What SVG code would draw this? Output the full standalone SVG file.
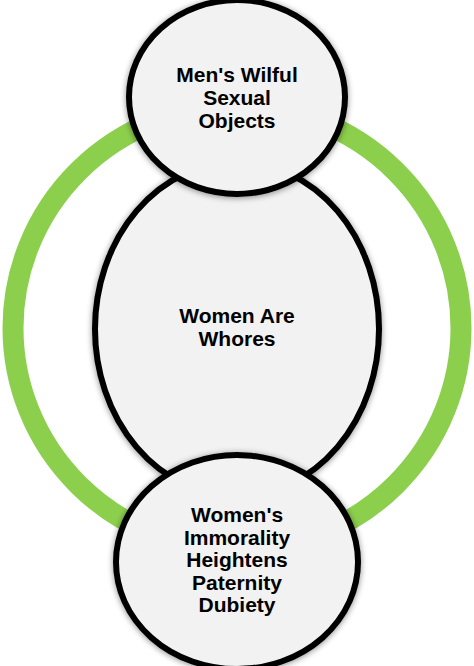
<svg xmlns="http://www.w3.org/2000/svg" width="474" height="666" viewBox="0 0 474 666">
  <style>
    .node { fill: #F2F2F2; stroke: #000000; stroke-width: 6; filter: url(#shadow); }
    .lbl { font-family: "Liberation Sans", Arial, sans-serif; font-weight: bold; font-size: 21px; fill: #000000; text-anchor: middle; }
  </style>
  <defs>
    <filter id="shadow" x="-20%" y="-20%" width="140%" height="140%">
      <feGaussianBlur in="SourceAlpha" stdDeviation="3"/>
      <feOffset dx="0" dy="1" result="b"/>
      <feComponentTransfer><feFuncA type="linear" slope="0.45"/></feComponentTransfer>
      <feMerge><feMergeNode/><feMergeNode in="SourceGraphic"/></feMerge>
    </filter>
  </defs>
  <rect width="474" height="666" fill="#FFFFFF"/>
  <g id="connectors">
    <ellipse cx="237" cy="328" rx="224" ry="222" fill="none" stroke="#8CCF4D" stroke-width="21"/>
  </g>
  <g id="node-women-are-whores">
    <ellipse class="node" cx="237" cy="329" rx="142" ry="167"/>
    <text class="lbl" x="237" y="322.5">Women Are</text>
    <text class="lbl" x="237" y="345.5">Whores</text>
  </g>
  <g id="node-mens-wilful">
    <ellipse class="node" cx="237" cy="97" rx="108" ry="97"/>
    <text class="lbl" x="237" y="82">Men's Wilful</text>
    <text class="lbl" x="237" y="105">Sexual</text>
    <text class="lbl" x="237" y="128">Objects</text>
  </g>
  <g id="node-womens-immorality">
    <ellipse class="node" cx="237" cy="562" rx="121" ry="107"/>
    <text class="lbl" x="237" y="522">Women's</text>
    <text class="lbl" x="237" y="544.5">Immorality</text>
    <text class="lbl" x="237" y="567">Heightens</text>
    <text class="lbl" x="237" y="589.5">Paternity</text>
    <text class="lbl" x="237" y="612">Dubiety</text>
  </g>
</svg>
